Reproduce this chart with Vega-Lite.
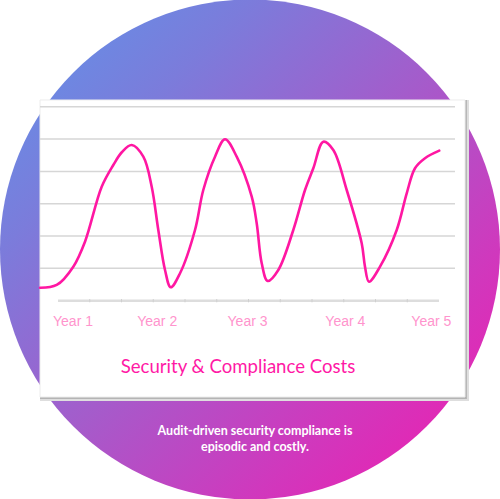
{
  "$schema": "https://vega.github.io/schema/vega-lite/v6.json",
  "width": 500,
  "height": 499,
  "autosize": "none",
  "padding": 0,
  "background": "#ffffff",
  "config": {"view": {"stroke": null}},
  "encoding": {
    "x": {"field": "m", "type": "quantitative", "scale": {"domain": [-1.827, 13.921], "nice": false, "zero": false}, "axis": null},
    "y": {"field": "v", "type": "quantitative", "scale": {"domain": [-6.134, 9.301], "nice": false, "zero": false}, "axis": null}
  },
  "layer": [
    {
      "data": {"values": [{"m": 6.047, "v": 1.584}]},
      "mark": {"type": "point", "shape": "circle", "size": 250000, "filled": true, "opacity": 1, "strokeWidth": 0,
        "fill": {"gradient": "linear", "x1": 0, "y1": 0, "x2": 1, "y2": 1, "stops": [
          {"offset": 0, "color": "#5c96ea"},
          {"offset": 0.25, "color": "#7b7cdb"},
          {"offset": 0.5, "color": "#a45ccb"},
          {"offset": 0.75, "color": "#d038bd"},
          {"offset": 1, "color": "#f418ac"}
        ]}}
    },
    {
      "data": {"values": [{"m": -0.567, "m2": 12.945, "v": 6.208, "v2": -3.10}]},
      "mark": {"type": "rect", "color": "#dedede"},
      "encoding": {"x2": {"field": "m2"}, "y2": {"field": "v2"}}
    },
    {
      "data": {"values": [{"m": -0.567, "m2": 12.88, "v": 6.208, "v2": -3.04}]},
      "mark": {"type": "rect", "color": "#b4b4b4"},
      "encoding": {"x2": {"field": "m2"}, "y2": {"field": "v2"}}
    },
    {
      "data": {"values": [{"m": -0.567, "m2": 12.819, "v": 6.208, "v2": -2.979}]},
      "mark": {"type": "rect", "fill": "#ffffff", "stroke": "#ececec", "strokeWidth": 1},
      "encoding": {"x2": {"field": "m2"}, "y2": {"field": "v2"}}
    },
    {
      "data": {"values": [
        {"m": -0.567, "m2": 12.504, "v": 1},
        {"m": -0.567, "m2": 12.504, "v": 2},
        {"m": -0.567, "m2": 12.504, "v": 3},
        {"m": -0.567, "m2": 12.504, "v": 4},
        {"m": -0.567, "m2": 12.504, "v": 5},
        {"m": -0.567, "m2": 12.504, "v": 6}
      ]},
      "mark": {"type": "rule", "color": "#d6d6d6", "strokeWidth": 1.5},
      "encoding": {"x2": {"field": "m2"}}
    },
    {
      "data": {"values": [{"m": 0, "m2": 12, "v": 0}]},
      "mark": {"type": "rule", "color": "#dddddd", "strokeWidth": 2.5},
      "encoding": {"x2": {"field": "m2"}}
    },
    {
      "data": {"values": [
        {"m": 1, "v": 0.05, "v2": -0.05}, {"m": 2, "v": 0.05, "v2": -0.05}, {"m": 3, "v": 0.05, "v2": -0.05},
        {"m": 4, "v": 0.05, "v2": -0.05}, {"m": 5, "v": 0.05, "v2": -0.05}, {"m": 6, "v": 0.05, "v2": -0.05},
        {"m": 7, "v": 0.05, "v2": -0.05}, {"m": 8, "v": 0.05, "v2": -0.05}, {"m": 9, "v": 0.05, "v2": -0.05},
        {"m": 10, "v": 0.05, "v2": -0.05}, {"m": 11, "v": 0.05, "v2": -0.05}
      ]},
      "mark": {"type": "rule", "color": "#cfcfcf", "strokeWidth": 1},
      "encoding": {"y2": {"field": "v2"}}
    },
    {
      "data": {"values": [
        {"m": -0.567, "v": 0.402},
        {"m": -0.041, "v": 0.486},
        {"m": 0.482, "v": 1.052},
        {"m": 0.850, "v": 1.825},
        {"m": 1.376, "v": 3.526},
        {"m": 1.742, "v": 4.197},
        {"m": 2.016, "v": 4.599},
        {"m": 2.321, "v": 4.816},
        {"m": 2.687, "v": 4.454},
        {"m": 2.951, "v": 3.526},
        {"m": 3.159, "v": 2.187},
        {"m": 3.370, "v": 0.950},
        {"m": 3.550, "v": 0.414},
        {"m": 3.843, "v": 0.848},
        {"m": 4.315, "v": 2.187},
        {"m": 4.576, "v": 3.424},
        {"m": 4.945, "v": 4.454},
        {"m": 5.260, "v": 4.992},
        {"m": 5.628, "v": 4.454},
        {"m": 6.101, "v": 3.217},
        {"m": 6.258, "v": 2.394},
        {"m": 6.416, "v": 1.157},
        {"m": 6.605, "v": 0.609},
        {"m": 6.939, "v": 0.950},
        {"m": 7.411, "v": 2.187},
        {"m": 7.780, "v": 3.424},
        {"m": 8.041, "v": 4.095},
        {"m": 8.356, "v": 4.918},
        {"m": 8.671, "v": 4.661},
        {"m": 9.093, "v": 3.424},
        {"m": 9.565, "v": 1.775},
        {"m": 9.669, "v": 1.052},
        {"m": 9.795, "v": 0.588},
        {"m": 10.142, "v": 1.052},
        {"m": 10.668, "v": 2.187},
        {"m": 10.983, "v": 3.322},
        {"m": 11.244, "v": 4.095},
        {"m": 11.559, "v": 4.405},
        {"m": 12.009, "v": 4.640}
      ]},
      "mark": {"type": "line", "color": "#ff17a2", "strokeWidth": 2.6, "interpolate": "catmull-rom", "strokeCap": "round"}
    },
    {
      "data": {"values": [
        {"m": 0.472, "v": -0.78, "label": "Year 1"},
        {"m": 3.124, "v": -0.78, "label": "Year 2"},
        {"m": 5.969, "v": -0.78, "label": "Year 3"},
        {"m": 9.049, "v": -0.78, "label": "Year 4"},
        {"m": 11.758, "v": -0.78, "label": "Year 5"}
      ]},
      "mark": {"type": "text", "align": "center", "baseline": "alphabetic", "font": "Liberation Sans", "fontSize": 14, "color": "#ff94cd"},
      "encoding": {"text": {"field": "label"}}
    },
    {
      "data": {"values": [{"m": 5.669, "v": -2.227, "label": "Security & Compliance Costs"}]},
      "mark": {"type": "text", "align": "center", "baseline": "alphabetic", "font": "Lato", "fontSize": 18.6, "color": "#ff19a5"},
      "encoding": {"text": {"field": "label"}}
    },
    {
      "data": {"values": [
        {"m": 6.205, "v": -4.154, "label": "Audit-driven security compliance is"},
        {"m": 6.205, "v": -4.65, "label": "episodic and costly."}
      ]},
      "mark": {"type": "text", "align": "center", "baseline": "alphabetic", "font": "Lato", "fontWeight": "bold", "fontSize": 12.5, "color": "#ffffff"},
      "encoding": {"text": {"field": "label"}}
    }
  ]
}
